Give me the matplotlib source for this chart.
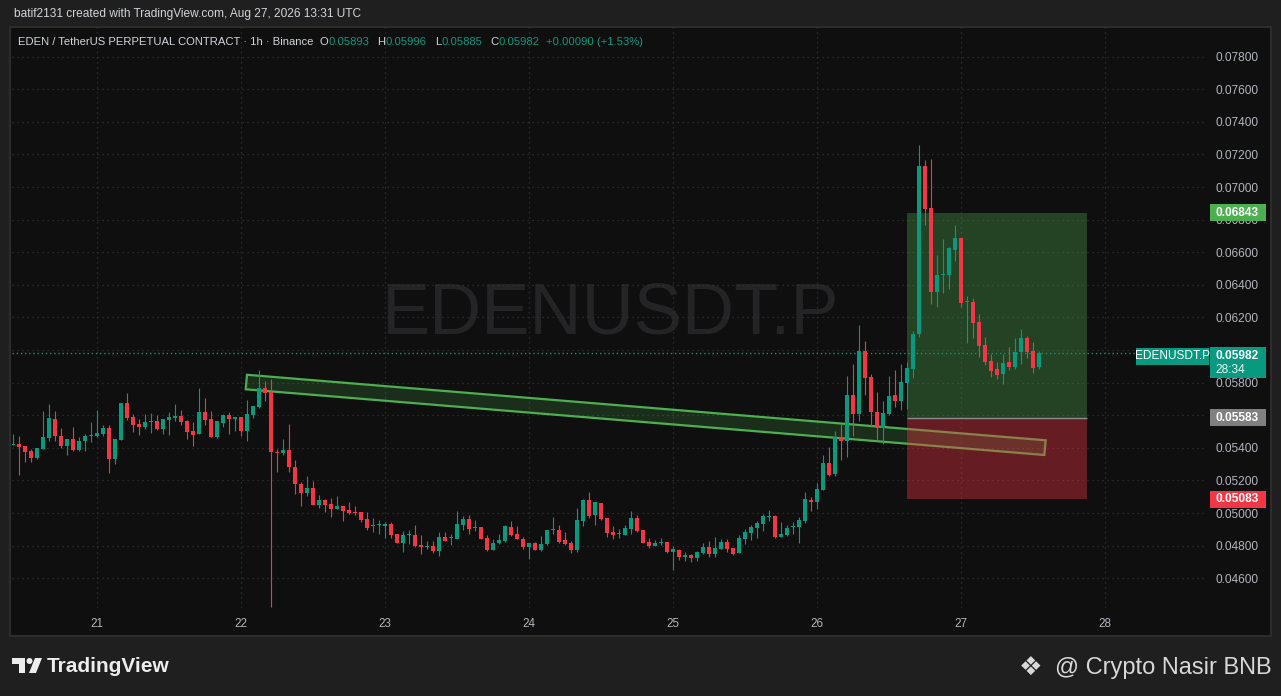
import numpy as np
import pandas as pd
import matplotlib
matplotlib.use('Agg')
import matplotlib.pyplot as plt
import matplotlib.dates as mdates
import matplotlib.patches as mpatches
import matplotlib.transforms as mtransforms

plt.rcParams['font.family'] = ['Liberation Sans', 'DejaVu Sans']

# EDENUSDT.P 1h candles
start = '2026-08-20 10:00'
opens = [0.05420, 0.05426, 0.05408, 0.05378, 0.05335, 0.05394, 0.05463, 0.05578, 0.05475, 0.05414,
         0.05457, 0.05384, 0.05440, 0.05471, 0.05475, 0.05487, 0.05523, 0.05331, 0.05447, 0.05675,
         0.05590, 0.05547, 0.05529, 0.05560, 0.05566, 0.05517, 0.05572, 0.05584, 0.05596, 0.05566,
         0.05505, 0.05487, 0.05620, 0.05578, 0.05469, 0.05554, 0.05602, 0.05578, 0.05590, 0.05505,
         0.05602, 0.05651, 0.05766, 0.05741, 0.05377, 0.05367, 0.05384, 0.05285, 0.05181, 0.05125,
         0.05156, 0.05052, 0.05082, 0.05058, 0.05027, 0.05045, 0.05021, 0.05008, 0.05008, 0.04965,
         0.04918, 0.04924, 0.04922, 0.04935, 0.04873, 0.04818, 0.04863, 0.04867, 0.04805, 0.04793,
         0.04799, 0.04769, 0.04855, 0.04845, 0.04843, 0.04928, 0.04965, 0.04910, 0.04916, 0.04849,
         0.04775, 0.04818, 0.04830, 0.04916, 0.04873, 0.04842, 0.04793, 0.04818, 0.04775, 0.04812,
         0.04896, 0.04896, 0.04835, 0.04816, 0.04774, 0.04951, 0.05080, 0.04988, 0.05061, 0.04969,
         0.04884, 0.04869, 0.04865, 0.04902, 0.04969, 0.04896, 0.04823, 0.04798, 0.04816, 0.04823,
         0.04761, 0.04774, 0.04731, 0.04743, 0.04725, 0.04755, 0.04792, 0.04749, 0.04780, 0.04823,
         0.04786, 0.04755, 0.04841, 0.04878, 0.04908, 0.04933, 0.04978, 0.04982, 0.04853, 0.04865,
         0.04912, 0.04914, 0.04951, 0.05082, 0.05066, 0.05143, 0.05309, 0.05241, 0.05468, 0.05439,
         0.05725, 0.05610, 0.05996, 0.05835, 0.05621, 0.05519, 0.05610, 0.05725, 0.05690, 0.05798,
         0.05886, 0.06099, 0.07131, 0.06873, 0.06357, 0.06460, 0.06462, 0.06615, 0.06689, 0.06292,
         0.06296, 0.06173, 0.06032, 0.05933, 0.05884, 0.05854, 0.05927, 0.05897, 0.05989, 0.06075,
         0.05995, 0.05893]
highs = [0.05487, 0.05475, 0.05414, 0.05394, 0.05400, 0.05626, 0.05669, 0.05626, 0.05523, 0.05457,
         0.05529, 0.05467, 0.05487, 0.05560, 0.05632, 0.05541, 0.05541, 0.05451, 0.05675, 0.05735,
         0.05608, 0.05578, 0.05608, 0.05614, 0.05602, 0.05578, 0.05620, 0.05669, 0.05632, 0.05572,
         0.05560, 0.05766, 0.05705, 0.05626, 0.05566, 0.05608, 0.05620, 0.05592, 0.05590, 0.05693,
         0.05657, 0.05875, 0.05808, 0.05820, 0.05390, 0.05451, 0.05544, 0.05328, 0.05193, 0.05224,
         0.05199, 0.05113, 0.05088, 0.05094, 0.05107, 0.05045, 0.05070, 0.05045, 0.05008, 0.05008,
         0.04972, 0.04960, 0.04947, 0.04947, 0.04873, 0.04892, 0.04898, 0.04928, 0.04867, 0.04830,
         0.04830, 0.04885, 0.04885, 0.04873, 0.05015, 0.04984, 0.04990, 0.04959, 0.04916, 0.04867,
         0.04842, 0.04873, 0.04928, 0.04953, 0.04922, 0.04855, 0.04818, 0.04824, 0.04861, 0.04898,
         0.04978, 0.04927, 0.04884, 0.04829, 0.05031, 0.05086, 0.05129, 0.05067, 0.05061, 0.04969,
         0.04920, 0.04902, 0.04927, 0.05012, 0.04988, 0.04896, 0.04847, 0.04835, 0.04847, 0.04823,
         0.04798, 0.04780, 0.04761, 0.04749, 0.04767, 0.04816, 0.04829, 0.04853, 0.04841, 0.04841,
         0.04786, 0.04865, 0.04902, 0.04927, 0.04951, 0.04994, 0.05018, 0.04988, 0.04945, 0.04927,
         0.04945, 0.04976, 0.05129, 0.05096, 0.05186, 0.05357, 0.05406, 0.05504, 0.05547, 0.05841,
         0.05914, 0.06153, 0.06055, 0.05853, 0.05743, 0.05688, 0.05841, 0.05878, 0.05914, 0.05927,
         0.06116, 0.07260, 0.07168, 0.07174, 0.06584, 0.06683, 0.06634, 0.06769, 0.06689, 0.06333,
         0.06320, 0.06222, 0.06081, 0.05976, 0.05927, 0.05976, 0.06020, 0.06075, 0.06130, 0.06087,
         0.06050, 0.05996]
lows = [0.05415, 0.05234, 0.05313, 0.05313, 0.05333, 0.05390, 0.05440, 0.05440, 0.05398, 0.05356,
        0.05380, 0.05378, 0.05380, 0.05434, 0.05467, 0.05475, 0.05247, 0.05301, 0.05447, 0.05572,
        0.05499, 0.05481, 0.05517, 0.05493, 0.05511, 0.05487, 0.05481, 0.05566, 0.05541, 0.05457,
        0.05408, 0.05487, 0.05541, 0.05469, 0.05463, 0.05530, 0.05487, 0.05505, 0.05475, 0.05444,
        0.05584, 0.05645, 0.05687, 0.04423, 0.05250, 0.05353, 0.05250, 0.05119, 0.05045, 0.05107,
        0.05050, 0.05033, 0.05008, 0.04978, 0.05025, 0.04953, 0.04996, 0.04990, 0.04947, 0.04898,
        0.04885, 0.04873, 0.04849, 0.04849, 0.04814, 0.04762, 0.04812, 0.04793, 0.04750, 0.04781,
        0.04756, 0.04738, 0.04830, 0.04805, 0.04843, 0.04898, 0.04873, 0.04892, 0.04840, 0.04769,
        0.04775, 0.04812, 0.04824, 0.04861, 0.04840, 0.04781, 0.04719, 0.04775, 0.04769, 0.04806,
        0.04873, 0.04816, 0.04804, 0.04755, 0.04761, 0.04920, 0.04970, 0.04927, 0.04957, 0.04853,
        0.04841, 0.04847, 0.04865, 0.04871, 0.04884, 0.04816, 0.04786, 0.04798, 0.04804, 0.04755,
        0.04651, 0.04712, 0.04706, 0.04700, 0.04706, 0.04749, 0.04731, 0.04731, 0.04780, 0.04761,
        0.04743, 0.04755, 0.04810, 0.04835, 0.04847, 0.04890, 0.04951, 0.04847, 0.04853, 0.04859,
        0.04871, 0.04816, 0.04939, 0.05015, 0.05027, 0.05143, 0.05229, 0.05229, 0.05327, 0.05345,
        0.05474, 0.05566, 0.05725, 0.05529, 0.05445, 0.05425, 0.05602, 0.05651, 0.05629, 0.05639,
        0.05831, 0.06080, 0.06769, 0.06284, 0.06265, 0.06351, 0.06376, 0.06548, 0.06265, 0.06044,
        0.06075, 0.05958, 0.05909, 0.05835, 0.05823, 0.05792, 0.05878, 0.05884, 0.05915, 0.05952,
        0.05860, 0.05885]
closes = [0.05425, 0.05404, 0.05374, 0.05335, 0.05400, 0.05469, 0.05584, 0.05471, 0.05414, 0.05457,
          0.05384, 0.05444, 0.05475, 0.05481, 0.05493, 0.05523, 0.05331, 0.05451, 0.05675, 0.05584,
          0.05541, 0.05529, 0.05560, 0.05564, 0.05517, 0.05578, 0.05590, 0.05596, 0.05560, 0.05499,
          0.05481, 0.05620, 0.05572, 0.05469, 0.05566, 0.05602, 0.05578, 0.05590, 0.05505, 0.05608,
          0.05657, 0.05766, 0.05735, 0.05372, 0.05367, 0.05384, 0.05281, 0.05175, 0.05125, 0.05156,
          0.05052, 0.05082, 0.05052, 0.05027, 0.05045, 0.05015, 0.05002, 0.05002, 0.04959, 0.04910,
          0.04922, 0.04930, 0.04935, 0.04867, 0.04818, 0.04867, 0.04867, 0.04799, 0.04793, 0.04799,
          0.04769, 0.04855, 0.04830, 0.04849, 0.04935, 0.04965, 0.04904, 0.04916, 0.04842, 0.04775,
          0.04818, 0.04836, 0.04922, 0.04867, 0.04842, 0.04793, 0.04818, 0.04775, 0.04812, 0.04898,
          0.04902, 0.04823, 0.04810, 0.04774, 0.04957, 0.05080, 0.04982, 0.05067, 0.04963, 0.04878,
          0.04865, 0.04873, 0.04908, 0.04969, 0.04890, 0.04816, 0.04798, 0.04816, 0.04823, 0.04761,
          0.04780, 0.04731, 0.04743, 0.04725, 0.04761, 0.04792, 0.04749, 0.04786, 0.04823, 0.04780,
          0.04749, 0.04847, 0.04884, 0.04914, 0.04941, 0.04982, 0.04984, 0.04853, 0.04871, 0.04908,
          0.04916, 0.04957, 0.05086, 0.05066, 0.05150, 0.05309, 0.05235, 0.05468, 0.05439, 0.05725,
          0.05610, 0.05996, 0.05831, 0.05617, 0.05519, 0.05614, 0.05719, 0.05690, 0.05804, 0.05890,
          0.06100, 0.07131, 0.06867, 0.06357, 0.06462, 0.06462, 0.06627, 0.06689, 0.06290, 0.06296,
          0.06167, 0.06026, 0.05927, 0.05872, 0.05848, 0.05921, 0.05897, 0.05989, 0.06075, 0.05989,
          0.05890, 0.05982]

# legend values as shown in the header
legend_ohlc = [('O', 0.05893), ('H', 0.05996), ('L', 0.05885), ('C', 0.05982)]
legend_change = '+0.00090 (+1.53%)'

# drawings
tp_price = 0.06843
entry_price = 0.05583
stop_price = 0.05083
last_price = 0.05982
countdown = '28:34'
pos_start, pos_end = '2026-08-26 15:00', '2026-08-27 21:00'
channel_times = ['2026-08-22 01:00', '2026-08-27 14:07', '2026-08-27 13:53', '2026-08-22 00:47']
channel_prices = [0.05848, 0.05446, 0.05356, 0.05759]
price_ticks = np.arange(0.046, 0.0781, 0.002)

UP, DOWN = '#089981', '#f23645'
TXT = '#d1d4dc'
W, H = 1281, 696

fig = plt.figure(figsize=(W / 100, H / 100), dpi=100, facecolor='#1f1f1f')
px = mtransforms.Affine2D().scale(1 / W, -1 / H).translate(0, 1) + fig.transFigure

# chart pane
fig.patches.append(mpatches.Rectangle((10, 27), 1261, 609, transform=px, fc='#0f0f0f',
                                      ec='#2c2c2c', lw=1.5, zorder=-1))

ax = fig.add_axes([12 / W, 1 - 608 / H, (1207 - 12) / W, (608 - 27) / H])
ax.set_facecolor('none')

t = pd.date_range(start, periods=len(closes), freq='h')
x = mdates.date2num(t.to_pydatetime())
o, h, l, c = map(np.array, (opens, highs, lows, closes))
cols = np.where(c >= o, UP, DOWN)
ax.vlines(x, l, h, colors=cols, lw=0.8, zorder=3)
ax.bar(x, np.maximum(np.abs(c - o), 0.00006), bottom=np.minimum(o, c), width=0.8 / 24,
       color=cols, lw=0, zorder=4)

base = mdates.date2num(pd.Timestamp('2026-08-21').to_pydatetime())
ax.set_xlim(base - 85 / 6 / 24, base + 1110 / 6 / 24)
ax.set_ylim(0.044172, 0.079816)

# channel
cx = mdates.date2num(pd.to_datetime(channel_times).to_pydatetime())
ax.add_patch(mpatches.Polygon(np.column_stack([cx, channel_prices]), closed=True,
                              fc=(76 / 255, 175 / 255, 80 / 255, 0.2), ec='#4caf50', lw=1.6, zorder=1))

# long position tool
p0 = mdates.date2num(pd.Timestamp(pos_start).to_pydatetime())
p1 = mdates.date2num(pd.Timestamp(pos_end).to_pydatetime())
ax.add_patch(mpatches.Rectangle((p0, entry_price), p1 - p0, tp_price - entry_price,
                                fc='#4caf50', alpha=0.33, lw=0, zorder=1.5))
ax.add_patch(mpatches.Rectangle((p0, stop_price), p1 - p0, entry_price - stop_price,
                                fc='#f23645', alpha=0.38, lw=0, zorder=1.5))
ax.hlines(entry_price, p0, p1, color='#8c8c8c', lw=1, zorder=1.6)

ax.axhline(last_price, color=UP, lw=1, ls=(0, (1, 2)), zorder=2)

# axes styling
ax.set_axisbelow(True)
ax.grid(color='#333333', lw=0.9, ls=(0, (1, 3)))
for s in ax.spines.values():
    s.set_visible(False)
ax.xaxis.set_major_locator(mdates.DayLocator())
ax.xaxis.set_major_formatter(mdates.DateFormatter('%d'))
ax.set_yticks(price_ticks)
# the 0.06000 label sits under the last-price tag
ax.set_yticklabels(['' if abs(v - last_price) < 0.0004 else f'{v:.5f}' for v in price_ticks])
ax.yaxis.tick_right()
ax.tick_params(axis='y', length=0, pad=6, labelsize=8.6, labelcolor='#b2b5be')
ax.tick_params(axis='x', length=0, pad=7, labelsize=8.4, labelcolor='#b2b5be')

ax.text(0.5, 0.504, 'EDENUSDT.P', transform=ax.transAxes, ha='center', va='center',
        fontsize=52, color='#242427', zorder=0.3)

# price tags on the axis
blend = mtransforms.blended_transform_factory(ax.transAxes, ax.transData)
dpp = (0.079816 - 0.044172) / 581      # price per pixel
axw = 1195


def tag(price, text, fc, xl=1210, w=56, hgt=17):
    y0 = price - hgt / 2 * dpp
    ax.add_patch(mpatches.Rectangle(((xl - 12) / axw, y0), w / axw, hgt * dpp, transform=blend,
                                    fc=fc, lw=0, clip_on=False, zorder=6))
    ax.text((xl - 12 + 5) / axw, price, text, transform=blend, ha='left', va='center',
            fontsize=8.6, color='white', fontweight='bold', clip_on=False, zorder=7)


tag(tp_price, f'{tp_price:.5f}', '#4caf50')
tag(entry_price, f'{entry_price:.5f}', '#808080')
tag(stop_price, f'{stop_price:.5f}', '#f23645')
# current price with countdown
ax.add_patch(mpatches.Rectangle((1198 / axw, last_price - 25.5 * dpp), 56 / axw, 31 * dpp,
                                transform=blend, fc=UP, lw=0, clip_on=False, zorder=6))
ax.text(1203 / axw, last_price - 3.5 * dpp, f'{last_price:.5f}', transform=blend, ha='left',
        va='center', fontsize=8.6, color='white', fontweight='bold', clip_on=False, zorder=7)
ax.text(1203 / axw, last_price - 17 * dpp, countdown, transform=blend, ha='left',
        va='center', fontsize=8.6, color='#e8f5f2', clip_on=False, zorder=7)
ax.add_patch(mpatches.Rectangle((1124 / axw, last_price - 12 * dpp), 73 / axw, 17 * dpp,
                                transform=blend, fc=UP, lw=0, clip_on=False, zorder=6))
ax.text(1160.5 / axw, last_price - 3.5 * dpp, 'EDENUSDT.P', transform=blend, ha='center',
        va='center', fontsize=8.6, color='white', clip_on=False, zorder=7)

# header texts
fig.text(14 / W, 1 - 14 / H, 'batif2131 created with TradingView.com, Aug 27, 2026 13:31 UTC',
         fontsize=8.6, color=TXT, va='center')
fig.text(18 / W, 1 - 42 / H, 'EDEN / TetherUS PERPETUAL CONTRACT \u00b7 1h \u00b7 Binance',
         fontsize=8.1, color=TXT, va='center')
renderer = fig.canvas.get_renderer()
for (letter, val), xp in zip(legend_ohlc, [320, 377, 435, 490]):
    tl = fig.text(xp / W, 1 - 42 / H, letter, fontsize=8.1, color=TXT, va='center')
    bb = tl.get_window_extent(renderer)
    fig.text(bb.x1 / W, 1 - 42 / H, f'{val:.5f}', fontsize=8.1, color=UP, va='center')
fig.text(546 / W, 1 - 42 / H, legend_change, fontsize=8.1, color=UP, va='center')

# footer
fig.patches.append(mpatches.Polygon([(12, 658), (25, 658), (25, 673), (19, 673), (19, 664), (12, 664)],
                                    closed=True, transform=px, fc='#ededed', lw=0))
fig.patches.append(mpatches.Circle((29.5, 661), 3, transform=px, fc='#ededed', lw=0))
fig.patches.append(mpatches.Polygon([(35, 658), (42, 658), (36, 673), (29, 673)], closed=True,
                                    transform=px, fc='#ededed', lw=0))
fig.text(47 / W, 1 - 666 / H, 'TradingView', fontsize=15, fontweight='bold', color='#ededed',
         va='center')
fig.text(1031 / W, 1 - 668 / H, '\u2756', fontsize=19, color='#d8d8d8', ha='center', va='center',
         family=['DejaVu Sans'])
fig.text(1272 / W, 1 - 668 / H, '@ Crypto Nasir BNB', fontsize=17, color='#d8d8d8', ha='right',
         va='center')

fig.savefig('out.png', dpi=100, facecolor=fig.get_facecolor())
